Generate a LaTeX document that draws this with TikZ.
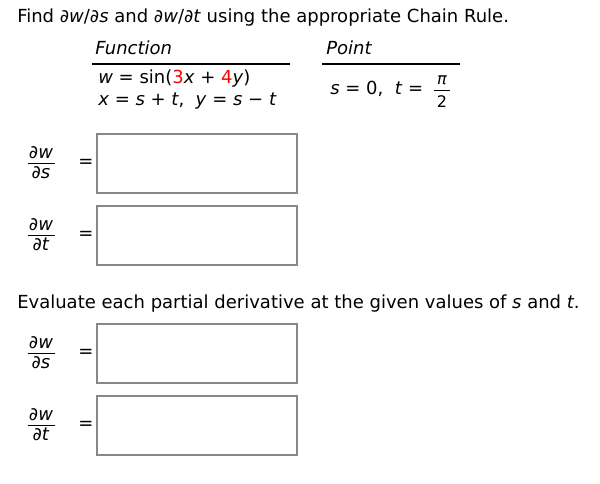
\documentclass[tikz,border=0pt]{standalone}
\usepackage{fontspec}
\setmainfont{DejaVu Sans}
\begin{document}
\begin{tikzpicture}[x=0.75pt,y=-0.75pt,
  txt/.style={anchor=base west,inner sep=0pt,font=\fontsize{13.5}{16}\selectfont},
  ansbox/.style={draw=black!47,line width=1.4pt},
  fr/.style={anchor=base,inner sep=0pt,font=\fontsize{13.5}{16}\selectfont}]
\useasboundingbox (0,0) rectangle (600,484);
\node[txt] (title) at (17,23) {Find \textit{∂w}/\textit{∂s} and \textit{∂w}/\textit{∂t} using the appropriate Chain Rule.};
\node[txt] (fh) at (95,55) {\textit{Function}};
\node[txt] (ph) at (326,55) {\textit{Point}};
\draw[line width=1pt] (92,64) -- (290,64);
\draw[line width=1pt] (322,64) -- (460,64);
\node[txt] (f1) at (98,84) {\textit{w} = sin(\textcolor{red}{3}\textit{x} + \textcolor{red}{4}\textit{y})};
\node[txt] (f2) at (98,106) {\textit{x} = \textit{s} + \textit{t},\ \ \textit{y} = \textit{s} − \textit{t}};
\node[txt] (p1) at (330,95) {\textit{s} = 0,\ \ \textit{t} = };
\node[fr,font=\fontsize{12}{14}\selectfont] (pin) at (442,85) {\textit{π}};
\node[fr,font=\fontsize{12}{14}\selectfont] (pid) at (442,108) {2};
\draw (434,90) -- (450,90);
\node[txt] (ev) at (17,309) {Evaluate each partial derivative at the given values of \textit{s} and \textit{t}.};
\foreach \y/\v/\n in {163/s/a,235/t/b,353/s/c,425/t/d}{
  \node[fr] (num\n) at (41,\y-4) {\textit{∂w}};
  \node[fr] (den\n) at (41,\y+16) {\textit{∂\v}};
  \draw (28,\y) -- (55,\y);
  \node[fr] (eq\n) at (86,\y+5) {=};
  \draw[ansbox] (97,\y-29) rectangle (297,\y+30);
}
\end{tikzpicture}
\end{document}
